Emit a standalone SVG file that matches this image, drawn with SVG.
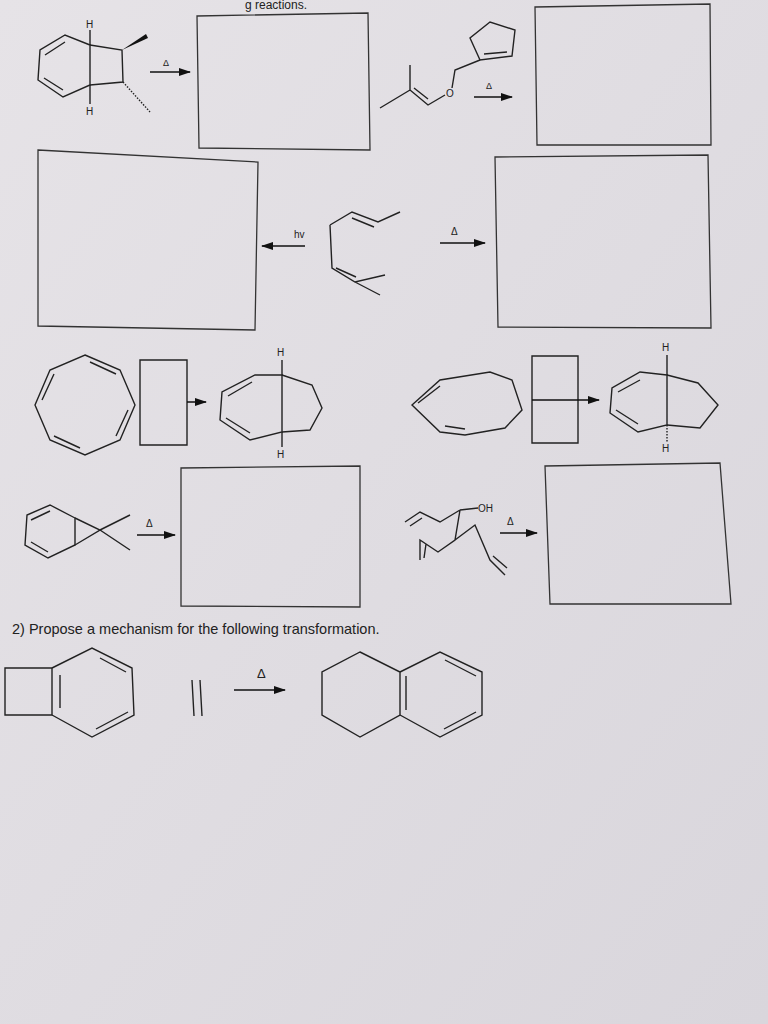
<svg xmlns="http://www.w3.org/2000/svg" width="768" height="1024" viewBox="0 0 768 1024">
<defs>
<linearGradient id="bg" x1="0" y1="0" x2="1" y2="1"><stop offset="0" stop-color="#e6e3e7"/><stop offset="1" stop-color="#d9d6dc"/></linearGradient>
<marker id="ah" markerWidth="12" markerHeight="8" refX="11" refY="4" orient="auto" markerUnits="userSpaceOnUse"><path d="M0,0 L12,4 L0,8 Z" fill="#111"/></marker>
</defs>
<style>
.l{stroke:#222;stroke-width:1.4;fill:none}
.b{stroke:#333;stroke-width:1.3;fill:none}
.a{stroke:#111;stroke-width:1.5;marker-end:url(#ah)}
.t{font-family:"Liberation Sans",sans-serif;fill:#222}
</style>
<rect width="768" height="1024" fill="url(#bg)"/>
<text class="t" x="245" y="9" font-size="12">g reactions.</text>

<g id="boxes">
<path class="b" d="M197,16 L368,13 L370,150 L199,148 Z"/>
<path class="b" d="M535,7 L710,4 L711,145 L537,145 Z"/>
<path class="b" d="M38,150 L258,162 L255,330 L38,326 Z"/>
<path class="b" d="M495,157 L708,155 L711,328 L498,327 Z"/>
<path class="b" d="M181,468 L360,466 L360,607 L181,606 Z"/>
<path class="b" d="M545,466 L720,463 L731,604 L550,604 Z"/>
</g>

<g id="mol1">
<path class="l" d="M90,45 L65,35 L40,50 L38,80 L63,97 L90,85 Z M45,55 L65,42 M44,78 L63,90"/>
<path class="l" d="M90,45 L122,50 L123,82 L90,85"/>
<line class="l" x1="90" y1="45" x2="90" y2="30" stroke-width="3"/>
<line class="l" x1="90" y1="85" x2="90" y2="104" stroke-width="3"/>
<path d="M122,50 L146,34 L148,38 Z" fill="#111"/>
<path class="l" d="M123,82 L150,112" stroke-dasharray="1.5,1.5" stroke-width="3"/>
<text class="t" x="86" y="28" font-size="10">H</text>
<text class="t" x="86" y="115" font-size="10">H</text>
</g>

<g id="mol2">
<path class="l" d="M480,60 L470,38 L490,22 L515,30 L512,56 Z M484,54 L507,52"/>
<path class="l" d="M480,60 L455,70 L452,88 M445,95 L428,105 L410,90 L410,65 M410,90 L380,108 M428,99 L414,88"/>
<text class="t" x="446" y="97" font-size="10">O</text>
</g>

<g id="mol3">
<path class="l" d="M330,225 L352,212 L378,222 L400,212 M352,218 L374,227 M330,225 L332,268 L355,282 L385,275 M336,268 L356,277 M355,282 L380,295"/>
</g>

<g id="mol4">
<path class="l" d="M85,355 L120,370 L135,405 L120,440 L85,455 L50,440 L35,405 L50,370 Z M90,362 L116,374 M128,410 L116,436 M80,448 L54,436 M42,400 L54,374"/>
<path class="l" d="M140,360 L187,360 L187,445 L140,445 Z"/>
</g>

<g id="mol5">
<path class="l" d="M282,375 L255,375 L222,392 L220,420 L250,440 L282,432 Z M228,396 L252,382 M226,418 L250,433"/>
<path class="l" d="M282,375 L312,385 L322,408 L310,430 L282,432"/>
<line class="l" x1="282" y1="375" x2="282" y2="360" stroke-width="3"/>
<line class="l" x1="282" y1="432" x2="282" y2="447" stroke-width="3"/>
<text class="t" x="277" y="356" font-size="10">H</text>
<text class="t" x="277" y="458" font-size="10">H</text>
</g>

<g id="mol6">
<path class="l" d="M412,405 L440,380 L490,372 L512,380 L522,410 L505,428 L465,435 L440,432 Z M418,403 L440,386 M445,426 L465,429"/>
<path class="l" d="M532,356 L578,356 L578,443 L532,443 Z"/>
</g>

<g id="mol7">
<path class="l" d="M667,375 L640,372 L612,388 L610,413 L638,432 L667,425 Z M618,392 L640,380 M616,410 L638,424"/>
<path class="l" d="M667,375 L698,383 L718,405 L700,428 L667,425"/>
<line class="l" x1="667" y1="375" x2="667" y2="355" stroke-width="3"/>
<path class="l" d="M667,425 L667,443" stroke-dasharray="1.5,1.5" stroke-width="3"/>
<text class="t" x="662" y="351" font-size="10">H</text>
<text class="t" x="662" y="452" font-size="10">H</text>
</g>

<g id="mol8">
<path class="l" d="M75,518 L50,505 L27,515 L25,545 L48,558 L75,545 Z M31,520 L50,511 M31,542 L48,552"/>
<path class="l" d="M75,518 L100,530 L75,545 M100,530 L130,515 M100,530 L130,550"/>
</g>

<g id="mol9">
<path class="l" d="M460,510 L478,508 M460,510 L440,522 L420,512 L405,522 M422,518 L410,526 M460,510 L455,540 L438,552 L420,540 L420,560 M426,544 L424,558 M455,540 L475,525 L490,560 L505,575 M493,556 L507,568"/>
<text class="t" x="478" y="512" font-size="10">OH</text>
</g>

<g id="mol10">
<path class="l" d="M5,668 L52,668 L52,715 L5,715 Z"/>
<path class="l" d="M52,668 L92,648 L132,668 L134,715 L92,737 L52,715 M100,658 L126,672 M128,712 L96,729 M60,675 L60,708"/>
<path class="l" d="M192,680 L194,716 M200,680 L202,716"/>
</g>

<g id="mol11">
<path class="l" d="M360,652 L400,672 L400,715 L360,737 L322,715 L322,672 Z"/>
<path class="l" d="M400,672 L440,652 L482,672 L482,715 L440,737 L400,715 M445,660 L476,676 M476,712 L444,729 M406,676 L406,710"/>
</g>

<g id="connectors">
<line class="a" x1="150" y1="72" x2="190" y2="72"/>
<line class="a" x1="474" y1="97" x2="512" y2="97"/>
<line class="a" x1="305" y1="246" x2="262" y2="246"/>
<line class="a" x1="440" y1="243" x2="485" y2="243"/>
<line class="a" x1="187" y1="402" x2="206" y2="402"/>
<line class="a" x1="532" y1="400" x2="599" y2="400"/>
<line class="a" x1="137" y1="535" x2="175" y2="535"/>
<line class="a" x1="500" y1="533" x2="537" y2="533"/>
<line class="a" x1="234" y1="690" x2="285" y2="690"/>
</g>
<g id="labels">
<text class="t" x="163" y="66" font-size="9">Δ</text>
<text class="t" x="486" y="89" font-size="9">Δ</text>
<text class="t" x="294" y="238" font-size="10">hv</text>
<text class="t" x="451" y="235" font-size="10">Δ</text>
<text class="t" x="146" y="527" font-size="10">Δ</text>
<text class="t" x="507" y="525" font-size="10">Δ</text>
<text class="t" x="257" y="678" font-size="13">Δ</text>
<text class="t" x="12" y="634" font-size="14.5">2) Propose a mechanism for the following transformation.</text>
</g>
</svg>
